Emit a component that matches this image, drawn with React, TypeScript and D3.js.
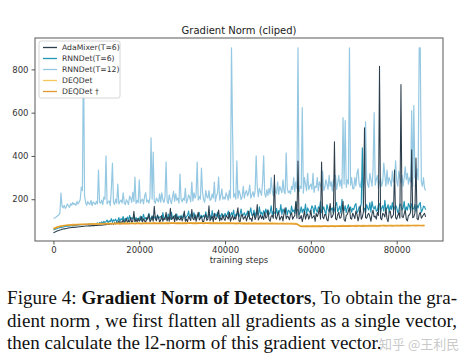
import { useEffect, useRef } from "react"
import * as d3 from "d3"

// noisy runs are logged every 250 steps, the DEQDet runs every 500
const noisyStep = 250
const smoothStep = 500

const seriesNames = ["AdaMixer(T=6)", "RNNDet(T=6)", "RNNDet(T=12)", "DEQDet", "DEQDet †"]
const seriesColors = ["#2c3e4c", "#2296b6", "#95c8e2", "#f3c75a", "#e39a2c"]

const xTicks = [0, 20000, 40000, 60000, 80000]
const yTicks = [200, 400, 600, 800]

const adaMixer = [
  45, 47, 50, 52, 54, 56, 58, 59, 61, 62, 63, 64, 65, 66, 67, 68, 68, 69, 70, 70,
  71, 71, 72, 72, 73, 73, 74, 74, 75, 75, 76, 76, 76, 77, 77, 77, 78, 78, 78, 79,
  79, 79, 80, 80, 81, 80, 82, 81, 83, 82, 84, 86, 83, 88, 85, 90, 84, 92, 86, 95,
  88, 100, 86, 96, 92, 105, 88, 98, 110, 90, 102, 95, 115, 92, 100, 144, 96, 108, 94, 112,
  98, 105, 120, 94, 110, 100, 92, 115, 108, 130, 96, 104, 120, 98, 167, 110, 100, 125, 115, 94,
  104, 125, 98, 112, 105, 140, 100, 118, 98, 158, 106, 110, 122, 95, 132, 102, 118, 108, 104, 120,
  100, 115, 145, 98, 108, 96, 120, 112, 102, 153, 110, 105, 128, 98, 116, 140, 104, 112, 122, 98,
  95, 118, 130, 102, 108, 170, 100, 112, 122, 96, 135, 106, 110, 125, 150, 100, 115, 104, 128, 110,
  102, 125, 118, 108, 140, 98, 112, 125, 105, 118, 108, 135, 160, 100, 96, 124, 130, 108, 115, 122,
  100, 118, 145, 108, 112, 98, 128, 135, 106, 120, 175, 104, 115, 128, 110, 122, 106, 140, 112, 118,
  150, 105, 98, 122, 125, 112, 312, 118, 108, 130, 140, 104, 115, 122, 100, 135, 160, 110, 122, 118,
  105, 128, 138, 108, 118, 124, 190, 112, 377, 110, 112, 125, 96, 118, 145, 108, 125, 132, 108, 120,
  150, 112, 118, 125, 98, 135, 120, 135, 160, 108, 372, 118, 110, 130, 128, 105, 100, 140, 180, 115,
  120, 132, 465, 110, 105, 128, 140, 112, 115, 138, 190, 105, 98, 125, 130, 145, 160, 112, 108, 135,
  125, 110, 145, 130, 100, 122, 170, 108, 118, 140, 530, 115, 112, 128, 135, 120, 98, 132, 150, 118,
  122, 108, 140, 125, 814, 112, 105, 135, 130, 118, 160, 108, 96, 140, 145, 112, 120, 128, 335, 115,
  108, 125, 138, 112, 730, 120, 115, 132, 150, 108, 100, 125, 128, 140, 428, 115, 118, 135, 390, 110,
  105, 130, 140, 112, 120, 128, 135, 118,
]

const rnnDet6 = [
  58, 60, 62, 64, 66, 67, 69, 70, 71, 72, 73, 74, 75, 75, 76, 77, 77, 78, 78, 79,
  79, 80, 80, 81, 81, 82, 82, 83, 83, 84, 84, 84, 85, 85, 86, 86, 87, 87, 88, 88,
  88, 90, 86, 92, 89, 95, 88, 98, 92, 96, 104, 90, 100, 96, 110, 94, 105, 100, 108, 96,
  102, 115, 98, 110, 104, 120, 96, 112, 105, 118, 100, 125, 108, 114, 110, 122, 98, 116, 106, 112,
  106, 122, 100, 112, 130, 108, 115, 104, 118, 135, 106, 112, 124, 105, 116, 120, 102, 128, 110, 118,
  120, 108, 138, 110, 116, 126, 104, 132, 116, 108, 140, 112, 118, 125, 110, 132, 106, 122, 115, 125,
  112, 128, 135, 108, 120, 125, 145, 112, 130, 118, 115, 138, 122, 108, 128, 120, 138, 112, 125, 118,
  126, 112, 142, 118, 115, 135, 125, 108, 148, 120, 116, 132, 122, 140, 112, 128, 118, 135, 124, 118,
  135, 120, 128, 145, 115, 122, 138, 125, 150, 112, 130, 125, 140, 118, 132, 155, 120, 128, 138, 122,
  130, 145, 120, 138, 160, 125, 128, 150, 118, 142, 135, 126, 165, 132, 140, 122, 148, 130, 155, 136,
  150, 130, 138, 170, 128, 145, 138, 132, 158, 125, 148, 140, 175, 130, 155, 142, 135, 160, 128, 150,
  145, 130, 168, 142, 150, 135, 185, 148, 152, 128, 140, 165, 138, 155, 142, 178, 130, 160, 148, 140,
  148, 170, 160, 132, 172, 150, 140, 165, 158, 190, 138, 150, 165, 145, 128, 175, 155, 142, 168, 150,
  160, 135, 150, 172, 185, 142, 155, 168, 136, 200, 150, 148, 170, 138, 160, 175, 145, 165, 140, 158,
  152, 172, 180, 138, 145, 165, 158, 180, 437, 150, 158, 135, 175, 160, 150, 185, 140, 190, 162, 155,
  168, 145, 148, 175, 180, 138, 160, 170, 145, 195, 150, 158, 175, 140, 170, 152, 185, 148, 160, 172,
  162, 138, 148, 178, 175, 150, 158, 190, 142, 165, 150, 180, 168, 145, 180, 158, 155, 175, 142, 172,
  160, 178, 185, 140, 150, 168, 165, 152,
]

const rnnDet12 = [
  112, 113, 116, 120, 124, 128, 135, 228, 168, 160, 172, 158, 165, 178, 170, 162, 180, 172, 185, 176,
  180, 172, 190, 178, 186, 200, 256, 240, 900, 215, 185, 172, 190, 180, 176, 195, 170, 188, 182, 176,
  190, 178, 335, 185, 182, 196, 175, 210, 200, 400, 178, 188, 192, 170, 250, 367, 185, 176, 200, 182,
  270, 178, 190, 196, 182, 230, 184, 175, 198, 188, 176, 215, 205, 185, 232, 190, 302, 180, 195, 184,
  290, 182, 195, 200, 178, 215, 230, 188, 196, 182, 210, 484, 200, 418, 190, 182, 205, 196, 188, 225,
  186, 230, 198, 185, 210, 372, 192, 180, 220, 196, 180, 210, 236, 190, 225, 196, 205, 182, 316, 200,
  188, 205, 195, 250, 182, 196, 220, 210, 188, 279, 192, 230, 205, 220, 372, 196, 212, 200, 344, 232,
  198, 186, 240, 212, 205, 240, 195, 200, 225, 205, 279, 190, 215, 230, 302, 196, 215, 248, 200, 210,
  200, 230, 215, 196, 240, 205, 900, 516, 210, 225, 200, 377, 205, 240, 225, 198, 212, 260, 205, 230,
  240, 215, 230, 265, 205, 220, 235, 210, 235, 400, 260, 212, 250, 235, 218, 280, 400, 225, 210, 245,
  218, 250, 225, 300, 240, 215, 270, 235, 225, 280, 222, 260, 245, 230, 290, 238, 225, 414, 250, 230,
  238, 225, 260, 245, 300, 235, 280, 250, 900, 235, 260, 250, 623, 228, 300, 270, 240, 320, 245, 260,
  270, 245, 320, 232, 260, 255, 300, 240, 280, 265, 250, 330, 240, 255, 290, 270, 245, 310, 260, 280,
  238, 290, 260, 310, 245, 275, 310, 260, 290, 250, 577, 270, 563, 255, 290, 270, 900, 265, 300, 250,
  248, 300, 262, 320, 340, 270, 255, 285, 300, 260, 280, 558, 300, 270, 255, 320, 290, 260, 340, 600,
  265, 290, 310, 250, 280, 295, 260, 280, 367, 310, 260, 335, 270, 300, 285, 260, 330, 280, 290, 377,
  285, 260, 330, 300, 275, 310, 260, 300, 350, 290, 320, 270, 300, 280, 609, 260, 633, 300, 290, 340,
  290, 900, 900, 280, 260, 300, 250, 240,
]

const deqDet = [
  66, 70, 73, 76, 78, 79, 80, 81, 82, 83,
  83, 84, 84, 85, 85, 85, 86, 86, 86, 87,
  87, 87, 88, 87, 88, 88, 89, 88, 88, 89,
  89, 88, 89, 89, 90, 89, 89, 90, 89, 90,
  90, 89, 90, 90, 89, 90, 90, 91, 90, 90,
  91, 90, 90, 91, 90, 91, 91, 90, 91, 91,
  90, 91, 91, 90, 91, 91, 90, 91, 90, 91,
  91, 90, 91, 91, 90, 91, 90, 90, 91, 90,
  90, 91, 90, 90, 89, 90, 90, 89, 90, 90,
  89, 90, 89, 90, 90, 89, 90, 89, 89, 90,
  89, 89, 90, 89, 89, 88, 89, 89, 88, 89,
  88, 89, 88, 88, 84, 78, 77, 77, 78, 77,
  77, 78, 77, 78, 78, 77, 78, 78, 77, 78,
  78, 78, 77, 78, 78, 79, 78, 78, 79, 78,
  78, 79, 79, 78, 79, 79, 78, 79, 79, 79,
  79, 78, 79, 79, 80, 79, 79, 80, 79, 79,
  80, 79, 80, 80, 79, 80, 80, 79, 80, 80,
  80, 79, 80, 80,
]

const deqDetDagger = [
  62, 67, 71, 74, 76, 78, 79, 80, 81, 81,
  82, 82, 83, 83, 84, 84, 84, 85, 85, 85,
  86, 85, 86, 86, 87, 86, 87, 87, 86, 87,
  87, 88, 87, 87, 88, 87, 88, 88, 87, 88,
  88, 87, 88, 88, 89, 88, 88, 89, 88, 88,
  89, 88, 88, 89, 88, 89, 89, 88, 89, 88,
  88, 89, 88, 89, 89, 88, 89, 88, 89, 89,
  88, 89, 89, 88, 89, 88, 89, 88, 88, 89,
  88, 88, 89, 88, 88, 87, 88, 88, 87, 88,
  87, 88, 87, 87, 88, 87, 87, 88, 87, 87,
  86, 87, 87, 86, 87, 86, 86, 87, 86, 86,
  86, 86, 85, 86, 82, 75, 74, 74, 75, 74,
  74, 75, 74, 74, 75, 74, 75, 75, 74, 75,
  75, 74, 75, 75, 76, 75, 75, 76, 75, 76,
  76, 75, 76, 76, 75, 76, 76, 77, 76, 76,
  77, 76, 76, 77, 77, 76, 77, 77, 76, 77,
  77, 77, 78, 77, 77, 78, 77, 78, 78, 77,
  78, 78, 77, 78,
]

const captionLines = [
  ["Figure 4: ", "Gradient Norm of Detectors", ", To obtain the gra-"],
  ["dient norm , we first flatten all gradients as a single vector,"],
  ["then calculate the l2-norm of this gradient vector."],
]
const watermark = "知乎 @王利民"

export default function App() {
  const svgRef = useRef<SVGSVGElement>(null)

  useEffect(() => {
    if (!svgRef.current) return
    const svg = d3.select(svgRef.current)
    svg.selectAll("*").remove()

    const left = 35, right = 443, top = 38, bottom = 241

    const x = d3.scaleLinear().domain([-4300, 90800]).range([left, right])
    const y = d3.scaleLinear().domain([7, 945]).range([bottom, top])

    svg.append("rect").attr("width", 474).attr("height", 364).attr("fill", "#fff")

    svg.append("clipPath").attr("id", "plot-clip")
      .append("rect").attr("x", left).attr("y", top).attr("width", right - left).attr("height", bottom - top)

    const plot = svg.append("g").attr("clip-path", "url(#plot-clip)")

    const lineFor = (step: number) =>
      d3.line<number>()
        .x((_, i) => x(i * step))
        .y((d) => y(d))

    // light series first so the darker ones sit on top
    const drawOrder: [number[], number, number, number][] = [
      [rnnDet12, 2, noisyStep, 1.2],
      [rnnDet6, 1, noisyStep, 1.15],
      [adaMixer, 0, noisyStep, 1.05],
      [deqDet, 3, smoothStep, 1.4],
      [deqDetDagger, 4, smoothStep, 1.4],
    ]
    drawOrder.forEach(([vals, ci, step, w]) => {
      plot.append("path")
        .datum(vals)
        .attr("fill", "none")
        .attr("stroke", seriesColors[ci])
        .attr("stroke-width", w)
        .attr("stroke-linejoin", "round")
        .attr("d", lineFor(step))
    })

    // frame
    svg.append("rect")
      .attr("x", left).attr("y", top).attr("width", right - left).attr("height", bottom - top)
      .attr("fill", "none").attr("stroke", "#666").attr("stroke-width", 1.1)

    const xAxis = svg.append("g")
      .attr("transform", `translate(0,${bottom})`)
      .call(d3.axisBottom(x).tickValues(xTicks).tickSize(3.5).tickPadding(2).tickFormat(d3.format("d")))
    const yAxis = svg.append("g")
      .attr("transform", `translate(${left},0)`)
      .call(d3.axisLeft(y).tickValues(yTicks).tickSize(3.5).tickPadding(3).tickFormat(d3.format("d")))
    ;[xAxis, yAxis].forEach((a) => {
      a.select(".domain").remove()
      a.selectAll("line").attr("stroke", "#555")
      a.selectAll("text").attr("fill", "#333").attr("font-size", 8.5).attr("font-family", "DejaVu Sans")
    })

    svg.append("text")
      .attr("x", (left + right) / 2).attr("y", 34)
      .attr("text-anchor", "middle")
      .attr("font-family", "DejaVu Sans").attr("font-size", 10).attr("fill", "#222")
      .text("Gradient Norm (cliped)")

    svg.append("text")
      .attr("x", (left + right) / 2).attr("y", 263)
      .attr("text-anchor", "middle")
      .attr("font-family", "DejaVu Sans").attr("font-size", 8.5).attr("fill", "#333")
      .text("training steps")

    // legend
    const lg = svg.append("g")
    lg.append("rect")
      .attr("x", 39).attr("y", 41).attr("width", 81).attr("height", 57).attr("rx", 2)
      .attr("fill", "#fff").attr("fill-opacity", 0.85).attr("stroke", "#ccc").attr("stroke-width", 0.8)
    seriesNames.forEach((name, i) => {
      const cy = 47.5 + i * 11
      lg.append("line")
        .attr("x1", 43).attr("x2", 57).attr("y1", cy).attr("y2", cy)
        .attr("stroke", seriesColors[i]).attr("stroke-width", 1.3)
      lg.append("text")
        .attr("x", 62).attr("y", cy).attr("dy", "0.35em")
        .attr("font-family", "DejaVu Sans").attr("font-size", 7.7).attr("fill", "#333")
        .text(name)
    })

    // caption
    const cap = svg.append("g").attr("font-family", "Liberation Serif").attr("font-size", 19).attr("fill", "#111")
    const baselines = [304, 327, 349]
    captionLines.forEach((parts, i) => {
      const t = cap.append("text").attr("x", 7).attr("y", baselines[i])
      if (i < 2) t.attr("textLength", 450).attr("lengthAdjust", "spacing")
      parts.forEach((p, j) => {
        t.append("tspan").attr("font-weight", i === 0 && j === 1 ? "bold" : "normal").text(p)
      })
    })
    svg.append("text")
      .attr("x", 379).attr("y", 349)
      .attr("font-family", "Noto Sans CJK SC").attr("font-size", 13).attr("fill", "#c2c2c2")
      .attr("fill-opacity", 0.9)
      .text(watermark)
  }, [])

  return (
    <svg ref={svgRef} width={474} height={364} style={{ position: "absolute", left: 0, top: 0 }} />
  )
}
